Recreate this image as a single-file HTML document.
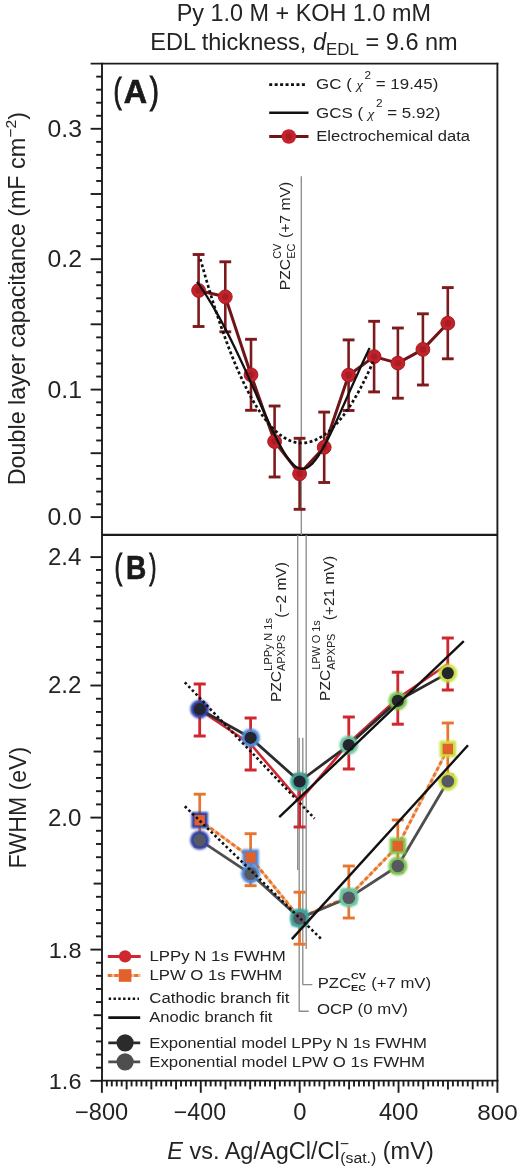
<!DOCTYPE html>
<html><head><meta charset="utf-8"><style>
html,body{margin:0;padding:0;background:#fff;}
svg{display:block;font-family:'Liberation Sans', Arial, Helvetica, sans-serif;}
</style></head><body>
<svg width="520" height="1169" viewBox="0 0 520 1169">
<rect width="520" height="1169" fill="#fff"/>
<line x1="90.60" y1="517.10" x2="102.00" y2="517.10" stroke="#1c1c1c" stroke-width="1.9" />
<line x1="96.20" y1="504.32" x2="102.00" y2="504.32" stroke="#1c1c1c" stroke-width="1.9" />
<line x1="96.20" y1="491.54" x2="102.00" y2="491.54" stroke="#1c1c1c" stroke-width="1.9" />
<line x1="96.20" y1="478.76" x2="102.00" y2="478.76" stroke="#1c1c1c" stroke-width="1.9" />
<line x1="96.20" y1="465.98" x2="102.00" y2="465.98" stroke="#1c1c1c" stroke-width="1.9" />
<line x1="90.60" y1="453.20" x2="102.00" y2="453.20" stroke="#1c1c1c" stroke-width="1.9" />
<line x1="96.20" y1="440.48" x2="102.00" y2="440.48" stroke="#1c1c1c" stroke-width="1.9" />
<line x1="96.20" y1="427.76" x2="102.00" y2="427.76" stroke="#1c1c1c" stroke-width="1.9" />
<line x1="96.20" y1="415.04" x2="102.00" y2="415.04" stroke="#1c1c1c" stroke-width="1.9" />
<line x1="96.20" y1="402.32" x2="102.00" y2="402.32" stroke="#1c1c1c" stroke-width="1.9" />
<line x1="90.60" y1="389.60" x2="102.00" y2="389.60" stroke="#1c1c1c" stroke-width="1.9" />
<line x1="96.20" y1="376.54" x2="102.00" y2="376.54" stroke="#1c1c1c" stroke-width="1.9" />
<line x1="96.20" y1="363.48" x2="102.00" y2="363.48" stroke="#1c1c1c" stroke-width="1.9" />
<line x1="96.20" y1="350.42" x2="102.00" y2="350.42" stroke="#1c1c1c" stroke-width="1.9" />
<line x1="96.20" y1="337.36" x2="102.00" y2="337.36" stroke="#1c1c1c" stroke-width="1.9" />
<line x1="90.60" y1="324.30" x2="102.00" y2="324.30" stroke="#1c1c1c" stroke-width="1.9" />
<line x1="96.20" y1="311.28" x2="102.00" y2="311.28" stroke="#1c1c1c" stroke-width="1.9" />
<line x1="96.20" y1="298.26" x2="102.00" y2="298.26" stroke="#1c1c1c" stroke-width="1.9" />
<line x1="96.20" y1="285.24" x2="102.00" y2="285.24" stroke="#1c1c1c" stroke-width="1.9" />
<line x1="96.20" y1="272.22" x2="102.00" y2="272.22" stroke="#1c1c1c" stroke-width="1.9" />
<line x1="90.60" y1="259.20" x2="102.00" y2="259.20" stroke="#1c1c1c" stroke-width="1.9" />
<line x1="96.20" y1="246.16" x2="102.00" y2="246.16" stroke="#1c1c1c" stroke-width="1.9" />
<line x1="96.20" y1="233.12" x2="102.00" y2="233.12" stroke="#1c1c1c" stroke-width="1.9" />
<line x1="96.20" y1="220.08" x2="102.00" y2="220.08" stroke="#1c1c1c" stroke-width="1.9" />
<line x1="96.20" y1="207.04" x2="102.00" y2="207.04" stroke="#1c1c1c" stroke-width="1.9" />
<line x1="90.60" y1="194.00" x2="102.00" y2="194.00" stroke="#1c1c1c" stroke-width="1.9" />
<line x1="96.20" y1="180.96" x2="102.00" y2="180.96" stroke="#1c1c1c" stroke-width="1.9" />
<line x1="96.20" y1="167.92" x2="102.00" y2="167.92" stroke="#1c1c1c" stroke-width="1.9" />
<line x1="96.20" y1="154.88" x2="102.00" y2="154.88" stroke="#1c1c1c" stroke-width="1.9" />
<line x1="96.20" y1="141.84" x2="102.00" y2="141.84" stroke="#1c1c1c" stroke-width="1.9" />
<line x1="90.60" y1="128.80" x2="102.00" y2="128.80" stroke="#1c1c1c" stroke-width="1.9" />
<line x1="96.20" y1="115.76" x2="102.00" y2="115.76" stroke="#1c1c1c" stroke-width="1.9" />
<line x1="96.20" y1="102.72" x2="102.00" y2="102.72" stroke="#1c1c1c" stroke-width="1.9" />
<line x1="96.20" y1="89.68" x2="102.00" y2="89.68" stroke="#1c1c1c" stroke-width="1.9" />
<line x1="96.20" y1="76.64" x2="102.00" y2="76.64" stroke="#1c1c1c" stroke-width="1.9" />
<line x1="90.40" y1="1080.80" x2="102.00" y2="1080.80" stroke="#1c1c1c" stroke-width="1.9" />
<line x1="96.00" y1="1067.68" x2="102.00" y2="1067.68" stroke="#1c1c1c" stroke-width="1.9" />
<line x1="96.00" y1="1054.56" x2="102.00" y2="1054.56" stroke="#1c1c1c" stroke-width="1.9" />
<line x1="96.00" y1="1041.44" x2="102.00" y2="1041.44" stroke="#1c1c1c" stroke-width="1.9" />
<line x1="96.00" y1="1028.32" x2="102.00" y2="1028.32" stroke="#1c1c1c" stroke-width="1.9" />
<line x1="93.60" y1="1015.20" x2="102.00" y2="1015.20" stroke="#1c1c1c" stroke-width="1.9" />
<line x1="96.00" y1="1002.08" x2="102.00" y2="1002.08" stroke="#1c1c1c" stroke-width="1.9" />
<line x1="96.00" y1="988.96" x2="102.00" y2="988.96" stroke="#1c1c1c" stroke-width="1.9" />
<line x1="96.00" y1="975.84" x2="102.00" y2="975.84" stroke="#1c1c1c" stroke-width="1.9" />
<line x1="96.00" y1="962.72" x2="102.00" y2="962.72" stroke="#1c1c1c" stroke-width="1.9" />
<line x1="90.40" y1="949.60" x2="102.00" y2="949.60" stroke="#1c1c1c" stroke-width="1.9" />
<line x1="96.00" y1="936.40" x2="102.00" y2="936.40" stroke="#1c1c1c" stroke-width="1.9" />
<line x1="96.00" y1="923.20" x2="102.00" y2="923.20" stroke="#1c1c1c" stroke-width="1.9" />
<line x1="96.00" y1="910.00" x2="102.00" y2="910.00" stroke="#1c1c1c" stroke-width="1.9" />
<line x1="96.00" y1="896.80" x2="102.00" y2="896.80" stroke="#1c1c1c" stroke-width="1.9" />
<line x1="93.60" y1="883.60" x2="102.00" y2="883.60" stroke="#1c1c1c" stroke-width="1.9" />
<line x1="96.00" y1="870.40" x2="102.00" y2="870.40" stroke="#1c1c1c" stroke-width="1.9" />
<line x1="96.00" y1="857.20" x2="102.00" y2="857.20" stroke="#1c1c1c" stroke-width="1.9" />
<line x1="96.00" y1="844.00" x2="102.00" y2="844.00" stroke="#1c1c1c" stroke-width="1.9" />
<line x1="96.00" y1="830.80" x2="102.00" y2="830.80" stroke="#1c1c1c" stroke-width="1.9" />
<line x1="90.40" y1="817.60" x2="102.00" y2="817.60" stroke="#1c1c1c" stroke-width="1.9" />
<line x1="96.00" y1="804.39" x2="102.00" y2="804.39" stroke="#1c1c1c" stroke-width="1.9" />
<line x1="96.00" y1="791.18" x2="102.00" y2="791.18" stroke="#1c1c1c" stroke-width="1.9" />
<line x1="96.00" y1="777.97" x2="102.00" y2="777.97" stroke="#1c1c1c" stroke-width="1.9" />
<line x1="96.00" y1="764.76" x2="102.00" y2="764.76" stroke="#1c1c1c" stroke-width="1.9" />
<line x1="93.60" y1="751.55" x2="102.00" y2="751.55" stroke="#1c1c1c" stroke-width="1.9" />
<line x1="96.00" y1="738.34" x2="102.00" y2="738.34" stroke="#1c1c1c" stroke-width="1.9" />
<line x1="96.00" y1="725.13" x2="102.00" y2="725.13" stroke="#1c1c1c" stroke-width="1.9" />
<line x1="96.00" y1="711.92" x2="102.00" y2="711.92" stroke="#1c1c1c" stroke-width="1.9" />
<line x1="96.00" y1="698.71" x2="102.00" y2="698.71" stroke="#1c1c1c" stroke-width="1.9" />
<line x1="90.40" y1="685.50" x2="102.00" y2="685.50" stroke="#1c1c1c" stroke-width="1.9" />
<line x1="96.00" y1="672.66" x2="102.00" y2="672.66" stroke="#1c1c1c" stroke-width="1.9" />
<line x1="96.00" y1="659.82" x2="102.00" y2="659.82" stroke="#1c1c1c" stroke-width="1.9" />
<line x1="96.00" y1="646.98" x2="102.00" y2="646.98" stroke="#1c1c1c" stroke-width="1.9" />
<line x1="96.00" y1="634.14" x2="102.00" y2="634.14" stroke="#1c1c1c" stroke-width="1.9" />
<line x1="93.60" y1="621.30" x2="102.00" y2="621.30" stroke="#1c1c1c" stroke-width="1.9" />
<line x1="96.00" y1="608.46" x2="102.00" y2="608.46" stroke="#1c1c1c" stroke-width="1.9" />
<line x1="96.00" y1="595.62" x2="102.00" y2="595.62" stroke="#1c1c1c" stroke-width="1.9" />
<line x1="96.00" y1="582.78" x2="102.00" y2="582.78" stroke="#1c1c1c" stroke-width="1.9" />
<line x1="96.00" y1="569.94" x2="102.00" y2="569.94" stroke="#1c1c1c" stroke-width="1.9" />
<line x1="90.40" y1="557.10" x2="102.00" y2="557.10" stroke="#1c1c1c" stroke-width="1.9" />
<line x1="101.90" y1="1080.60" x2="101.90" y2="1092.80" stroke="#1c1c1c" stroke-width="1.9" />
<line x1="106.84" y1="1080.60" x2="106.84" y2="1086.40" stroke="#1c1c1c" stroke-width="1.9" />
<line x1="111.79" y1="1080.60" x2="111.79" y2="1086.40" stroke="#1c1c1c" stroke-width="1.9" />
<line x1="116.73" y1="1080.60" x2="116.73" y2="1086.40" stroke="#1c1c1c" stroke-width="1.9" />
<line x1="121.68" y1="1080.60" x2="121.68" y2="1086.40" stroke="#1c1c1c" stroke-width="1.9" />
<line x1="126.62" y1="1080.60" x2="126.62" y2="1089.40" stroke="#1c1c1c" stroke-width="1.9" />
<line x1="131.56" y1="1080.60" x2="131.56" y2="1086.40" stroke="#1c1c1c" stroke-width="1.9" />
<line x1="136.51" y1="1080.60" x2="136.51" y2="1086.40" stroke="#1c1c1c" stroke-width="1.9" />
<line x1="141.45" y1="1080.60" x2="141.45" y2="1086.40" stroke="#1c1c1c" stroke-width="1.9" />
<line x1="146.39" y1="1080.60" x2="146.39" y2="1086.40" stroke="#1c1c1c" stroke-width="1.9" />
<line x1="151.34" y1="1080.60" x2="151.34" y2="1089.40" stroke="#1c1c1c" stroke-width="1.9" />
<line x1="156.28" y1="1080.60" x2="156.28" y2="1086.40" stroke="#1c1c1c" stroke-width="1.9" />
<line x1="161.23" y1="1080.60" x2="161.23" y2="1086.40" stroke="#1c1c1c" stroke-width="1.9" />
<line x1="166.17" y1="1080.60" x2="166.17" y2="1086.40" stroke="#1c1c1c" stroke-width="1.9" />
<line x1="171.11" y1="1080.60" x2="171.11" y2="1086.40" stroke="#1c1c1c" stroke-width="1.9" />
<line x1="176.06" y1="1080.60" x2="176.06" y2="1089.40" stroke="#1c1c1c" stroke-width="1.9" />
<line x1="181.00" y1="1080.60" x2="181.00" y2="1086.40" stroke="#1c1c1c" stroke-width="1.9" />
<line x1="185.94" y1="1080.60" x2="185.94" y2="1086.40" stroke="#1c1c1c" stroke-width="1.9" />
<line x1="190.89" y1="1080.60" x2="190.89" y2="1086.40" stroke="#1c1c1c" stroke-width="1.9" />
<line x1="195.83" y1="1080.60" x2="195.83" y2="1086.40" stroke="#1c1c1c" stroke-width="1.9" />
<line x1="200.78" y1="1080.60" x2="200.78" y2="1092.80" stroke="#1c1c1c" stroke-width="1.9" />
<line x1="205.72" y1="1080.60" x2="205.72" y2="1086.40" stroke="#1c1c1c" stroke-width="1.9" />
<line x1="210.66" y1="1080.60" x2="210.66" y2="1086.40" stroke="#1c1c1c" stroke-width="1.9" />
<line x1="215.61" y1="1080.60" x2="215.61" y2="1086.40" stroke="#1c1c1c" stroke-width="1.9" />
<line x1="220.55" y1="1080.60" x2="220.55" y2="1086.40" stroke="#1c1c1c" stroke-width="1.9" />
<line x1="225.49" y1="1080.60" x2="225.49" y2="1089.40" stroke="#1c1c1c" stroke-width="1.9" />
<line x1="230.44" y1="1080.60" x2="230.44" y2="1086.40" stroke="#1c1c1c" stroke-width="1.9" />
<line x1="235.38" y1="1080.60" x2="235.38" y2="1086.40" stroke="#1c1c1c" stroke-width="1.9" />
<line x1="240.33" y1="1080.60" x2="240.33" y2="1086.40" stroke="#1c1c1c" stroke-width="1.9" />
<line x1="245.27" y1="1080.60" x2="245.27" y2="1086.40" stroke="#1c1c1c" stroke-width="1.9" />
<line x1="250.21" y1="1080.60" x2="250.21" y2="1089.40" stroke="#1c1c1c" stroke-width="1.9" />
<line x1="255.16" y1="1080.60" x2="255.16" y2="1086.40" stroke="#1c1c1c" stroke-width="1.9" />
<line x1="260.10" y1="1080.60" x2="260.10" y2="1086.40" stroke="#1c1c1c" stroke-width="1.9" />
<line x1="265.04" y1="1080.60" x2="265.04" y2="1086.40" stroke="#1c1c1c" stroke-width="1.9" />
<line x1="269.99" y1="1080.60" x2="269.99" y2="1086.40" stroke="#1c1c1c" stroke-width="1.9" />
<line x1="274.93" y1="1080.60" x2="274.93" y2="1089.40" stroke="#1c1c1c" stroke-width="1.9" />
<line x1="279.88" y1="1080.60" x2="279.88" y2="1086.40" stroke="#1c1c1c" stroke-width="1.9" />
<line x1="284.82" y1="1080.60" x2="284.82" y2="1086.40" stroke="#1c1c1c" stroke-width="1.9" />
<line x1="289.76" y1="1080.60" x2="289.76" y2="1086.40" stroke="#1c1c1c" stroke-width="1.9" />
<line x1="294.71" y1="1080.60" x2="294.71" y2="1086.40" stroke="#1c1c1c" stroke-width="1.9" />
<line x1="299.65" y1="1080.60" x2="299.65" y2="1092.80" stroke="#1c1c1c" stroke-width="1.9" />
<line x1="304.59" y1="1080.60" x2="304.59" y2="1086.40" stroke="#1c1c1c" stroke-width="1.9" />
<line x1="309.54" y1="1080.60" x2="309.54" y2="1086.40" stroke="#1c1c1c" stroke-width="1.9" />
<line x1="314.48" y1="1080.60" x2="314.48" y2="1086.40" stroke="#1c1c1c" stroke-width="1.9" />
<line x1="319.43" y1="1080.60" x2="319.43" y2="1086.40" stroke="#1c1c1c" stroke-width="1.9" />
<line x1="324.37" y1="1080.60" x2="324.37" y2="1089.40" stroke="#1c1c1c" stroke-width="1.9" />
<line x1="329.31" y1="1080.60" x2="329.31" y2="1086.40" stroke="#1c1c1c" stroke-width="1.9" />
<line x1="334.26" y1="1080.60" x2="334.26" y2="1086.40" stroke="#1c1c1c" stroke-width="1.9" />
<line x1="339.20" y1="1080.60" x2="339.20" y2="1086.40" stroke="#1c1c1c" stroke-width="1.9" />
<line x1="344.14" y1="1080.60" x2="344.14" y2="1086.40" stroke="#1c1c1c" stroke-width="1.9" />
<line x1="349.09" y1="1080.60" x2="349.09" y2="1089.40" stroke="#1c1c1c" stroke-width="1.9" />
<line x1="354.03" y1="1080.60" x2="354.03" y2="1086.40" stroke="#1c1c1c" stroke-width="1.9" />
<line x1="358.98" y1="1080.60" x2="358.98" y2="1086.40" stroke="#1c1c1c" stroke-width="1.9" />
<line x1="363.92" y1="1080.60" x2="363.92" y2="1086.40" stroke="#1c1c1c" stroke-width="1.9" />
<line x1="368.86" y1="1080.60" x2="368.86" y2="1086.40" stroke="#1c1c1c" stroke-width="1.9" />
<line x1="373.81" y1="1080.60" x2="373.81" y2="1089.40" stroke="#1c1c1c" stroke-width="1.9" />
<line x1="378.75" y1="1080.60" x2="378.75" y2="1086.40" stroke="#1c1c1c" stroke-width="1.9" />
<line x1="383.69" y1="1080.60" x2="383.69" y2="1086.40" stroke="#1c1c1c" stroke-width="1.9" />
<line x1="388.64" y1="1080.60" x2="388.64" y2="1086.40" stroke="#1c1c1c" stroke-width="1.9" />
<line x1="393.58" y1="1080.60" x2="393.58" y2="1086.40" stroke="#1c1c1c" stroke-width="1.9" />
<line x1="398.52" y1="1080.60" x2="398.52" y2="1092.80" stroke="#1c1c1c" stroke-width="1.9" />
<line x1="403.47" y1="1080.60" x2="403.47" y2="1086.40" stroke="#1c1c1c" stroke-width="1.9" />
<line x1="408.41" y1="1080.60" x2="408.41" y2="1086.40" stroke="#1c1c1c" stroke-width="1.9" />
<line x1="413.36" y1="1080.60" x2="413.36" y2="1086.40" stroke="#1c1c1c" stroke-width="1.9" />
<line x1="418.30" y1="1080.60" x2="418.30" y2="1086.40" stroke="#1c1c1c" stroke-width="1.9" />
<line x1="423.24" y1="1080.60" x2="423.24" y2="1089.40" stroke="#1c1c1c" stroke-width="1.9" />
<line x1="428.19" y1="1080.60" x2="428.19" y2="1086.40" stroke="#1c1c1c" stroke-width="1.9" />
<line x1="433.13" y1="1080.60" x2="433.13" y2="1086.40" stroke="#1c1c1c" stroke-width="1.9" />
<line x1="438.08" y1="1080.60" x2="438.08" y2="1086.40" stroke="#1c1c1c" stroke-width="1.9" />
<line x1="443.02" y1="1080.60" x2="443.02" y2="1086.40" stroke="#1c1c1c" stroke-width="1.9" />
<line x1="447.96" y1="1080.60" x2="447.96" y2="1089.40" stroke="#1c1c1c" stroke-width="1.9" />
<line x1="452.91" y1="1080.60" x2="452.91" y2="1086.40" stroke="#1c1c1c" stroke-width="1.9" />
<line x1="457.85" y1="1080.60" x2="457.85" y2="1086.40" stroke="#1c1c1c" stroke-width="1.9" />
<line x1="462.79" y1="1080.60" x2="462.79" y2="1086.40" stroke="#1c1c1c" stroke-width="1.9" />
<line x1="467.74" y1="1080.60" x2="467.74" y2="1086.40" stroke="#1c1c1c" stroke-width="1.9" />
<line x1="472.68" y1="1080.60" x2="472.68" y2="1089.40" stroke="#1c1c1c" stroke-width="1.9" />
<line x1="477.62" y1="1080.60" x2="477.62" y2="1086.40" stroke="#1c1c1c" stroke-width="1.9" />
<line x1="482.57" y1="1080.60" x2="482.57" y2="1086.40" stroke="#1c1c1c" stroke-width="1.9" />
<line x1="487.51" y1="1080.60" x2="487.51" y2="1086.40" stroke="#1c1c1c" stroke-width="1.9" />
<line x1="492.46" y1="1080.60" x2="492.46" y2="1086.40" stroke="#1c1c1c" stroke-width="1.9" />
<line x1="497.40" y1="1080.60" x2="497.40" y2="1092.80" stroke="#1c1c1c" stroke-width="1.9" />
<line x1="90.60" y1="63.60" x2="498.30" y2="63.60" stroke="#1c1c1c" stroke-width="1.9" />
<line x1="497.40" y1="62.70" x2="497.40" y2="1081.50" stroke="#1c1c1c" stroke-width="1.9" />
<line x1="102.00" y1="62.70" x2="102.00" y2="1080.60" stroke="#1c1c1c" stroke-width="1.9" />
<line x1="102.00" y1="534.90" x2="497.40" y2="534.90" stroke="#1c1c1c" stroke-width="2.1" />
<line x1="101.10" y1="1080.60" x2="498.30" y2="1080.60" stroke="#1c1c1c" stroke-width="1.9" />
<line x1="301.30" y1="176.20" x2="301.30" y2="534.90" stroke="#8d8d8d" stroke-width="1.35" />
<line x1="297.70" y1="534.90" x2="297.70" y2="870.00" stroke="#8d8d8d" stroke-width="1.35" />
<line x1="306.20" y1="534.90" x2="306.20" y2="949.00" stroke="#8d8d8d" stroke-width="1.35" />
<polyline points="299.20,737.70 299.20,1011.20 308.70,1011.20" fill="none" stroke="#8d8d8d" stroke-width="1.35" stroke-linejoin="round" />
<polyline points="302.80,737.70 302.80,984.60 312.40,984.60" fill="none" stroke="#8d8d8d" stroke-width="1.35" stroke-linejoin="round" />
<line x1="198.60" y1="254.50" x2="198.60" y2="326.50" stroke="#7d1a1e" stroke-width="2.6" />
<line x1="192.70" y1="254.50" x2="204.50" y2="254.50" stroke="#7d1a1e" stroke-width="2.9" />
<line x1="192.70" y1="326.50" x2="204.50" y2="326.50" stroke="#7d1a1e" stroke-width="2.9" />
<line x1="225.30" y1="261.80" x2="225.30" y2="331.80" stroke="#7d1a1e" stroke-width="2.6" />
<line x1="219.40" y1="261.80" x2="231.20" y2="261.80" stroke="#7d1a1e" stroke-width="2.9" />
<line x1="219.40" y1="331.80" x2="231.20" y2="331.80" stroke="#7d1a1e" stroke-width="2.9" />
<line x1="251.00" y1="339.30" x2="251.00" y2="410.30" stroke="#7d1a1e" stroke-width="2.6" />
<line x1="245.10" y1="339.30" x2="256.90" y2="339.30" stroke="#7d1a1e" stroke-width="2.9" />
<line x1="245.10" y1="410.30" x2="256.90" y2="410.30" stroke="#7d1a1e" stroke-width="2.9" />
<line x1="274.60" y1="406.00" x2="274.60" y2="477.00" stroke="#7d1a1e" stroke-width="2.6" />
<line x1="268.70" y1="406.00" x2="280.50" y2="406.00" stroke="#7d1a1e" stroke-width="2.9" />
<line x1="268.70" y1="477.00" x2="280.50" y2="477.00" stroke="#7d1a1e" stroke-width="2.9" />
<line x1="299.60" y1="438.30" x2="299.60" y2="509.30" stroke="#7d1a1e" stroke-width="2.6" />
<line x1="293.70" y1="438.30" x2="305.50" y2="438.30" stroke="#7d1a1e" stroke-width="2.9" />
<line x1="293.70" y1="509.30" x2="305.50" y2="509.30" stroke="#7d1a1e" stroke-width="2.9" />
<line x1="324.20" y1="412.10" x2="324.20" y2="482.50" stroke="#7d1a1e" stroke-width="2.6" />
<line x1="318.30" y1="412.10" x2="330.10" y2="412.10" stroke="#7d1a1e" stroke-width="2.9" />
<line x1="318.30" y1="482.50" x2="330.10" y2="482.50" stroke="#7d1a1e" stroke-width="2.9" />
<line x1="348.60" y1="339.90" x2="348.60" y2="410.50" stroke="#7d1a1e" stroke-width="2.6" />
<line x1="342.70" y1="339.90" x2="354.50" y2="339.90" stroke="#7d1a1e" stroke-width="2.9" />
<line x1="342.70" y1="410.50" x2="354.50" y2="410.50" stroke="#7d1a1e" stroke-width="2.9" />
<line x1="374.10" y1="321.30" x2="374.10" y2="391.90" stroke="#7d1a1e" stroke-width="2.6" />
<line x1="368.20" y1="321.30" x2="380.00" y2="321.30" stroke="#7d1a1e" stroke-width="2.9" />
<line x1="368.20" y1="391.90" x2="380.00" y2="391.90" stroke="#7d1a1e" stroke-width="2.9" />
<line x1="397.90" y1="328.00" x2="397.90" y2="398.20" stroke="#7d1a1e" stroke-width="2.6" />
<line x1="392.00" y1="328.00" x2="403.80" y2="328.00" stroke="#7d1a1e" stroke-width="2.9" />
<line x1="392.00" y1="398.20" x2="403.80" y2="398.20" stroke="#7d1a1e" stroke-width="2.9" />
<line x1="422.90" y1="313.80" x2="422.90" y2="385.00" stroke="#7d1a1e" stroke-width="2.6" />
<line x1="417.00" y1="313.80" x2="428.80" y2="313.80" stroke="#7d1a1e" stroke-width="2.9" />
<line x1="417.00" y1="385.00" x2="428.80" y2="385.00" stroke="#7d1a1e" stroke-width="2.9" />
<line x1="447.80" y1="287.60" x2="447.80" y2="358.80" stroke="#7d1a1e" stroke-width="2.6" />
<line x1="441.90" y1="287.60" x2="453.70" y2="287.60" stroke="#7d1a1e" stroke-width="2.9" />
<line x1="441.90" y1="358.80" x2="453.70" y2="358.80" stroke="#7d1a1e" stroke-width="2.9" />
<polyline points="198.60,290.50 225.30,296.80 251.00,374.80 274.60,441.50 299.60,473.80 324.20,447.30 348.60,375.20 374.10,356.60 397.90,363.10 422.90,349.40 447.80,323.20" fill="none" stroke="#6f1518" stroke-width="3.0" stroke-linejoin="round" />
<circle cx="198.60" cy="290.50" r="6.9" fill="#c5212b" stroke="#a11d25" stroke-width="1"/>
<circle cx="198.60" cy="290.50" r="3.2" fill="#9a1c22" opacity="0.7"/>
<circle cx="225.30" cy="296.80" r="6.9" fill="#c5212b" stroke="#a11d25" stroke-width="1"/>
<circle cx="225.30" cy="296.80" r="3.2" fill="#9a1c22" opacity="0.7"/>
<circle cx="251.00" cy="374.80" r="6.9" fill="#c5212b" stroke="#a11d25" stroke-width="1"/>
<circle cx="251.00" cy="374.80" r="3.2" fill="#9a1c22" opacity="0.7"/>
<circle cx="274.60" cy="441.50" r="6.9" fill="#c5212b" stroke="#a11d25" stroke-width="1"/>
<circle cx="274.60" cy="441.50" r="3.2" fill="#9a1c22" opacity="0.7"/>
<circle cx="299.60" cy="473.80" r="6.9" fill="#c5212b" stroke="#a11d25" stroke-width="1"/>
<circle cx="299.60" cy="473.80" r="3.2" fill="#9a1c22" opacity="0.7"/>
<circle cx="324.20" cy="447.30" r="6.9" fill="#c5212b" stroke="#a11d25" stroke-width="1"/>
<circle cx="324.20" cy="447.30" r="3.2" fill="#9a1c22" opacity="0.7"/>
<circle cx="348.60" cy="375.20" r="6.9" fill="#c5212b" stroke="#a11d25" stroke-width="1"/>
<circle cx="348.60" cy="375.20" r="3.2" fill="#9a1c22" opacity="0.7"/>
<circle cx="374.10" cy="356.60" r="6.9" fill="#c5212b" stroke="#a11d25" stroke-width="1"/>
<circle cx="374.10" cy="356.60" r="3.2" fill="#9a1c22" opacity="0.7"/>
<circle cx="397.90" cy="363.10" r="6.9" fill="#c5212b" stroke="#a11d25" stroke-width="1"/>
<circle cx="397.90" cy="363.10" r="3.2" fill="#9a1c22" opacity="0.7"/>
<circle cx="422.90" cy="349.40" r="6.9" fill="#c5212b" stroke="#a11d25" stroke-width="1"/>
<circle cx="422.90" cy="349.40" r="3.2" fill="#9a1c22" opacity="0.7"/>
<circle cx="447.80" cy="323.20" r="6.9" fill="#c5212b" stroke="#a11d25" stroke-width="1"/>
<circle cx="447.80" cy="323.20" r="3.2" fill="#9a1c22" opacity="0.7"/>
<path d="M200.40,259.02 C200.73,260.22 201.73,263.85 202.40,266.22 C203.07,268.60 203.73,270.96 204.40,273.29 C205.07,275.62 205.73,277.92 206.40,280.21 C207.07,282.49 207.73,284.75 208.40,286.98 C209.07,289.22 209.73,291.43 210.40,293.61 C211.07,295.80 211.73,297.96 212.40,300.10 C213.07,302.24 213.73,304.35 214.40,306.44 C215.07,308.53 215.73,310.60 216.40,312.64 C217.07,314.69 217.73,316.70 218.40,318.70 C219.07,320.69 219.73,322.66 220.40,324.61 C221.07,326.56 221.73,328.48 222.40,330.38 C223.07,332.28 223.73,334.15 224.40,336.00 C225.07,337.85 225.73,339.68 226.40,341.48 C227.07,343.28 227.73,345.06 228.40,346.81 C229.07,348.57 229.73,350.30 230.40,352.01 C231.07,353.71 231.73,355.39 232.40,357.05 C233.07,358.71 233.73,360.35 234.40,361.96 C235.07,363.57 235.73,365.15 236.40,366.72 C237.07,368.28 237.73,369.82 238.40,371.33 C239.07,372.85 239.73,374.34 240.40,375.80 C241.07,377.27 241.73,378.71 242.40,380.13 C243.07,381.55 243.73,382.94 244.40,384.31 C245.07,385.68 245.73,387.03 246.40,388.35 C247.07,389.67 247.73,390.97 248.40,392.25 C249.07,393.52 249.73,394.77 250.40,396.00 C251.07,397.22 251.73,398.43 252.40,399.61 C253.07,400.78 253.73,401.94 254.40,403.07 C255.07,404.20 255.73,405.31 256.40,406.39 C257.07,407.47 257.73,408.53 258.40,409.56 C259.07,410.60 259.73,411.61 260.40,412.59 C261.07,413.58 261.73,414.54 262.40,415.48 C263.07,416.42 263.73,417.33 264.40,418.22 C265.07,419.11 265.73,419.98 266.40,420.82 C267.07,421.67 267.73,422.48 268.40,423.28 C269.07,424.07 269.73,424.84 270.40,425.59 C271.07,426.34 271.73,427.06 272.40,427.76 C273.07,428.46 273.73,429.13 274.40,429.78 C275.07,430.43 275.73,431.06 276.40,431.66 C277.07,432.26 277.73,432.84 278.40,433.39 C279.07,433.95 279.73,434.48 280.40,434.99 C281.07,435.49 281.73,435.97 282.40,436.43 C283.07,436.89 283.73,437.33 284.40,437.74 C285.07,438.15 285.73,438.53 286.40,438.90 C287.07,439.26 287.73,439.60 288.40,439.91 C289.07,440.23 289.73,440.52 290.40,440.78 C291.07,441.05 291.73,441.29 292.40,441.51 C293.07,441.73 293.73,441.92 294.40,442.09 C295.07,442.26 295.73,442.41 296.40,442.53 C297.07,442.65 297.73,442.75 298.40,442.83 C299.07,442.90 299.73,442.95 300.40,442.98 C301.07,443.00 301.73,443.01 302.40,442.99 C303.07,442.97 303.73,442.93 304.40,442.87 C305.07,442.81 305.73,442.73 306.40,442.62 C307.07,442.52 307.73,442.40 308.40,442.26 C309.07,442.11 309.73,441.95 310.40,441.76 C311.07,441.58 311.73,441.37 312.40,441.14 C313.07,440.92 313.73,440.67 314.40,440.40 C315.07,440.13 315.73,439.84 316.40,439.53 C317.07,439.22 317.73,438.89 318.40,438.54 C319.07,438.18 319.73,437.81 320.40,437.41 C321.07,437.02 321.73,436.61 322.40,436.17 C323.07,435.73 323.73,435.28 324.40,434.80 C325.07,434.32 325.73,433.82 326.40,433.30 C327.07,432.78 327.73,432.24 328.40,431.67 C329.07,431.11 329.73,430.53 330.40,429.92 C331.07,429.32 331.73,428.69 332.40,428.05 C333.07,427.40 333.73,426.73 334.40,426.04 C335.07,425.35 335.73,424.64 336.40,423.91 C337.07,423.18 337.73,422.42 338.40,421.65 C339.07,420.88 339.73,420.08 340.40,419.26 C341.07,418.45 341.73,417.61 342.40,416.75 C343.07,415.89 343.73,415.01 344.40,414.10 C345.07,413.20 345.73,412.28 346.40,411.33 C347.07,410.39 347.73,409.42 348.40,408.43 C349.07,407.44 349.73,406.43 350.40,405.40 C351.07,404.37 351.73,403.31 352.40,402.24 C353.07,401.16 353.73,400.06 354.40,398.94 C355.07,397.83 355.73,396.68 356.40,395.52 C357.07,394.36 357.73,393.17 358.40,391.97 C359.07,390.76 359.73,389.53 360.40,388.28 C361.07,387.03 361.73,385.76 362.40,384.46 C363.07,383.17 363.73,381.85 364.40,380.51 C365.07,379.17 365.73,377.81 366.40,376.43 C367.07,375.04 367.73,373.64 368.40,372.21 C369.07,370.78 369.73,369.33 370.40,367.85 C371.07,366.38 371.92,364.46 372.40,363.36 C372.88,362.27 373.15,361.64 373.30,361.30" fill="none" stroke="#111" stroke-width="2.7" stroke-dasharray="2.9,2.5"/>
<path d="M197.10,281.89 C197.43,282.36 198.43,283.75 199.10,284.71 C199.77,285.66 200.43,286.62 201.10,287.60 C201.77,288.58 202.43,289.57 203.10,290.57 C203.77,291.58 204.43,292.60 205.10,293.63 C205.77,294.66 206.43,295.70 207.10,296.76 C207.77,297.82 208.43,298.89 209.10,299.97 C209.77,301.06 210.43,302.15 211.10,303.26 C211.77,304.37 212.43,305.49 213.10,306.62 C213.77,307.76 214.43,308.91 215.10,310.06 C215.77,311.22 216.43,312.39 217.10,313.58 C217.77,314.76 218.43,315.96 219.10,317.16 C219.77,318.37 220.43,319.59 221.10,320.82 C221.77,322.05 222.43,323.30 223.10,324.55 C223.77,325.80 224.43,327.07 225.10,328.35 C225.77,329.62 226.43,330.91 227.10,332.21 C227.77,333.51 228.43,334.82 229.10,336.14 C229.77,337.46 230.43,338.79 231.10,340.13 C231.77,341.47 232.43,342.82 233.10,344.18 C233.77,345.54 234.43,346.92 235.10,348.30 C235.77,349.68 236.43,351.06 237.10,352.46 C237.77,353.86 238.43,355.27 239.10,356.68 C239.77,358.10 240.43,359.52 241.10,360.95 C241.77,362.38 242.43,363.82 243.10,365.27 C243.77,366.72 244.43,368.17 245.10,369.63 C245.77,371.09 246.43,372.56 247.10,374.03 C247.77,375.50 248.43,376.98 249.10,378.46 C249.77,379.94 250.43,381.43 251.10,382.92 C251.77,384.41 252.43,385.90 253.10,387.40 C253.77,388.90 254.43,390.40 255.10,391.90 C255.77,393.40 256.43,394.91 257.10,396.41 C257.77,397.91 258.43,399.42 259.10,400.92 C259.77,402.42 260.43,403.93 261.10,405.42 C261.77,406.92 262.43,408.42 263.10,409.91 C263.77,411.40 264.43,412.89 265.10,414.37 C265.77,415.85 266.43,417.32 267.10,418.79 C267.77,420.25 268.43,421.71 269.10,423.16 C269.77,424.60 270.43,426.04 271.10,427.45 C271.77,428.87 272.43,430.28 273.10,431.67 C273.77,433.06 274.43,434.43 275.10,435.78 C275.77,437.13 276.43,438.46 277.10,439.77 C277.77,441.08 278.43,442.36 279.10,443.62 C279.77,444.87 280.43,446.10 281.10,447.29 C281.77,448.49 282.43,449.66 283.10,450.78 C283.77,451.91 284.43,453.00 285.10,454.05 C285.77,455.09 286.43,456.10 287.10,457.06 C287.77,458.02 288.43,458.94 289.10,459.80 C289.77,460.66 290.43,461.48 291.10,462.23 C291.77,462.99 292.43,463.69 293.10,464.33 C293.77,464.97 294.43,465.55 295.10,466.06 C295.77,466.57 296.43,467.02 297.10,467.40 C297.77,467.78 298.43,468.09 299.10,468.33 C299.77,468.56 300.43,468.73 301.10,468.82 C301.77,468.91 302.43,468.92 303.10,468.86 C303.77,468.80 304.43,468.67 305.10,468.46 C305.77,468.25 306.43,467.97 307.10,467.62 C307.77,467.27 308.43,466.85 309.10,466.36 C309.77,465.88 310.43,465.32 311.10,464.71 C311.77,464.09 312.43,463.41 313.10,462.68 C313.77,461.95 314.43,461.16 315.10,460.31 C315.77,459.47 316.43,458.57 317.10,457.63 C317.77,456.69 318.43,455.70 319.10,454.67 C319.77,453.64 320.43,452.56 321.10,451.45 C321.77,450.34 322.43,449.19 323.10,448.01 C323.77,446.83 324.43,445.61 325.10,444.37 C325.77,443.12 326.43,441.85 327.10,440.55 C327.77,439.26 328.43,437.93 329.10,436.59 C329.77,435.25 330.43,433.88 331.10,432.50 C331.77,431.12 332.43,429.72 333.10,428.30 C333.77,426.89 334.43,425.46 335.10,424.02 C335.77,422.58 336.43,421.13 337.10,419.67 C337.77,418.21 338.43,416.73 339.10,415.26 C339.77,413.78 340.43,412.29 341.10,410.81 C341.77,409.32 342.43,407.82 343.10,406.32 C343.77,404.83 344.43,403.32 345.10,401.82 C345.77,400.32 346.43,398.82 347.10,397.31 C347.77,395.81 348.43,394.30 349.10,392.80 C349.77,391.30 350.43,389.80 351.10,388.30 C351.77,386.80 352.43,385.31 353.10,383.81 C353.77,382.32 354.43,380.83 355.10,379.35 C355.77,377.86 356.43,376.38 357.10,374.91 C357.77,373.44 358.43,371.97 359.10,370.51 C359.77,369.04 360.43,367.59 361.10,366.14 C361.77,364.69 362.43,363.25 363.10,361.81 C363.77,360.38 364.43,358.95 365.10,357.53 C365.77,356.11 366.43,354.70 367.10,353.30 C367.77,351.90 368.68,349.99 369.10,349.12 C369.52,348.26 369.52,348.26 369.60,348.09" fill="none" stroke="#111" stroke-width="2.3"/>
<line x1="199.70" y1="684.00" x2="199.70" y2="736.00" stroke="#cf2630" stroke-width="2.8" />
<line x1="193.70" y1="684.00" x2="205.70" y2="684.00" stroke="#cf2630" stroke-width="3.0" />
<line x1="193.70" y1="736.00" x2="205.70" y2="736.00" stroke="#cf2630" stroke-width="3.0" />
<line x1="250.60" y1="718.00" x2="250.60" y2="770.00" stroke="#cf2630" stroke-width="2.8" />
<line x1="244.60" y1="718.00" x2="256.60" y2="718.00" stroke="#cf2630" stroke-width="3.0" />
<line x1="244.60" y1="770.00" x2="256.60" y2="770.00" stroke="#cf2630" stroke-width="3.0" />
<line x1="299.60" y1="775.00" x2="299.60" y2="827.00" stroke="#cf2630" stroke-width="2.8" />
<line x1="293.60" y1="775.00" x2="305.60" y2="775.00" stroke="#cf2630" stroke-width="3.0" />
<line x1="293.60" y1="827.00" x2="305.60" y2="827.00" stroke="#cf2630" stroke-width="3.0" />
<line x1="348.80" y1="717.00" x2="348.80" y2="769.00" stroke="#cf2630" stroke-width="2.8" />
<line x1="342.80" y1="717.00" x2="354.80" y2="717.00" stroke="#cf2630" stroke-width="3.0" />
<line x1="342.80" y1="769.00" x2="354.80" y2="769.00" stroke="#cf2630" stroke-width="3.0" />
<line x1="397.80" y1="672.20" x2="397.80" y2="724.20" stroke="#cf2630" stroke-width="2.8" />
<line x1="391.80" y1="672.20" x2="403.80" y2="672.20" stroke="#cf2630" stroke-width="3.0" />
<line x1="391.80" y1="724.20" x2="403.80" y2="724.20" stroke="#cf2630" stroke-width="3.0" />
<line x1="447.80" y1="638.00" x2="447.80" y2="690.00" stroke="#cf2630" stroke-width="2.8" />
<line x1="441.80" y1="638.00" x2="453.80" y2="638.00" stroke="#cf2630" stroke-width="3.0" />
<line x1="441.80" y1="690.00" x2="453.80" y2="690.00" stroke="#cf2630" stroke-width="3.0" />
<line x1="199.70" y1="794.20" x2="199.70" y2="846.20" stroke="#e7752d" stroke-width="2.7" />
<line x1="193.70" y1="794.20" x2="205.70" y2="794.20" stroke="#e7752d" stroke-width="2.9" />
<line x1="193.70" y1="846.20" x2="205.70" y2="846.20" stroke="#e7752d" stroke-width="2.9" />
<line x1="250.60" y1="833.70" x2="250.60" y2="885.70" stroke="#e7752d" stroke-width="2.7" />
<line x1="244.60" y1="833.70" x2="256.60" y2="833.70" stroke="#e7752d" stroke-width="2.9" />
<line x1="244.60" y1="885.70" x2="256.60" y2="885.70" stroke="#e7752d" stroke-width="2.9" />
<line x1="299.60" y1="892.20" x2="299.60" y2="944.20" stroke="#e7752d" stroke-width="2.7" />
<line x1="293.60" y1="892.20" x2="305.60" y2="892.20" stroke="#e7752d" stroke-width="2.9" />
<line x1="293.60" y1="944.20" x2="305.60" y2="944.20" stroke="#e7752d" stroke-width="2.9" />
<line x1="348.80" y1="866.00" x2="348.80" y2="918.00" stroke="#e7752d" stroke-width="2.7" />
<line x1="342.80" y1="866.00" x2="354.80" y2="866.00" stroke="#e7752d" stroke-width="2.9" />
<line x1="342.80" y1="918.00" x2="354.80" y2="918.00" stroke="#e7752d" stroke-width="2.9" />
<line x1="397.80" y1="820.00" x2="397.80" y2="872.00" stroke="#e7752d" stroke-width="2.7" />
<line x1="391.80" y1="820.00" x2="403.80" y2="820.00" stroke="#e7752d" stroke-width="2.9" />
<line x1="391.80" y1="872.00" x2="403.80" y2="872.00" stroke="#e7752d" stroke-width="2.9" />
<line x1="447.80" y1="723.00" x2="447.80" y2="775.00" stroke="#e7752d" stroke-width="2.7" />
<line x1="441.80" y1="723.00" x2="453.80" y2="723.00" stroke="#e7752d" stroke-width="2.9" />
<line x1="441.80" y1="775.00" x2="453.80" y2="775.00" stroke="#e7752d" stroke-width="2.9" />
<polyline points="199.70,710.00 250.60,744.00 299.60,801.00 348.80,743.00 397.80,698.20 447.80,664.00" fill="none" stroke="#cf2630" stroke-width="2.6" stroke-linejoin="round" />
<polyline points="199.70,820.20 250.60,857.50 299.60,918.00 348.80,896.50 397.80,846.00 447.80,749.00" fill="none" stroke="#f4c09c" stroke-width="2.8" stroke-linejoin="round" />
<polyline points="199.70,820.20 250.60,857.50 299.60,918.00 348.80,896.50 397.80,846.00 447.80,749.00" fill="none" stroke="#e7752d" stroke-width="2.9" stroke-linejoin="round" stroke-dasharray="4,2.6"/>
<polyline points="199.70,709.20 250.60,737.80 299.60,781.50 348.80,745.00 397.80,700.80 447.80,673.10" fill="none" stroke="#2b2b2b" stroke-width="2.8" stroke-linejoin="round" />
<polyline points="199.70,840.10 250.60,873.80 299.60,918.30 348.80,897.80 397.80,866.00 447.80,781.30" fill="none" stroke="#4e4e4e" stroke-width="2.8" stroke-linejoin="round" />
<defs><filter id="bl" x="-50%" y="-50%" width="200%" height="200%"><feGaussianBlur stdDeviation="0.9"/></filter></defs>
<rect x="191.50" y="812.00" width="16.4" height="16.4" fill="#2f3fa6" filter="url(#bl)"/>
<rect x="194.50" y="815.00" width="10.4" height="10.4" fill="#e2602a"/>
<rect x="242.40" y="849.30" width="16.4" height="16.4" fill="#4f86d2" filter="url(#bl)"/>
<rect x="245.40" y="852.30" width="10.4" height="10.4" fill="#e2602a"/>
<rect x="291.40" y="909.80" width="16.4" height="16.4" fill="#3aa597" filter="url(#bl)"/>
<rect x="294.40" y="912.80" width="10.4" height="10.4" fill="#e2602a"/>
<rect x="340.60" y="888.30" width="16.4" height="16.4" fill="#6cc59b" filter="url(#bl)"/>
<rect x="343.60" y="891.30" width="10.4" height="10.4" fill="#e2602a"/>
<rect x="389.60" y="837.80" width="16.4" height="16.4" fill="#79c548" filter="url(#bl)"/>
<rect x="392.60" y="840.80" width="10.4" height="10.4" fill="#e2602a"/>
<rect x="439.60" y="740.80" width="16.4" height="16.4" fill="#c9df3c" filter="url(#bl)"/>
<rect x="442.60" y="743.80" width="10.4" height="10.4" fill="#e2602a"/>
<circle cx="199.70" cy="709.20" r="9.4" fill="#2f3fa6" filter="url(#bl)"/>
<circle cx="199.70" cy="709.20" r="6.1" fill="#252530"/>
<circle cx="250.60" cy="737.80" r="9.4" fill="#4f86d2" filter="url(#bl)"/>
<circle cx="250.60" cy="737.80" r="6.1" fill="#252530"/>
<circle cx="299.60" cy="781.50" r="9.4" fill="#3aa597" filter="url(#bl)"/>
<circle cx="299.60" cy="781.50" r="6.1" fill="#252530"/>
<circle cx="348.80" cy="745.00" r="9.4" fill="#6cc59b" filter="url(#bl)"/>
<circle cx="348.80" cy="745.00" r="6.1" fill="#252530"/>
<circle cx="397.80" cy="700.80" r="9.4" fill="#79c548" filter="url(#bl)"/>
<circle cx="397.80" cy="700.80" r="6.1" fill="#252530"/>
<circle cx="447.80" cy="673.10" r="9.4" fill="#c9df3c" filter="url(#bl)"/>
<circle cx="447.80" cy="673.10" r="6.1" fill="#252530"/>
<circle cx="199.70" cy="840.10" r="9.6" fill="#2f3fa6" filter="url(#bl)"/>
<circle cx="199.70" cy="840.10" r="6.3" fill="#565864"/>
<circle cx="250.60" cy="873.80" r="9.6" fill="#4f86d2" filter="url(#bl)"/>
<circle cx="250.60" cy="873.80" r="6.3" fill="#565864"/>
<circle cx="299.60" cy="918.30" r="9.6" fill="#3aa597" filter="url(#bl)"/>
<circle cx="299.60" cy="918.30" r="6.3" fill="#565864"/>
<circle cx="348.80" cy="897.80" r="9.6" fill="#6cc59b" filter="url(#bl)"/>
<circle cx="348.80" cy="897.80" r="6.3" fill="#565864"/>
<circle cx="397.80" cy="866.00" r="9.6" fill="#79c548" filter="url(#bl)"/>
<circle cx="397.80" cy="866.00" r="6.3" fill="#565864"/>
<circle cx="447.80" cy="781.30" r="9.6" fill="#c9df3c" filter="url(#bl)"/>
<circle cx="447.80" cy="781.30" r="6.3" fill="#565864"/>
<line x1="184.80" y1="682.30" x2="314.60" y2="818.50" stroke="#111" stroke-width="2.6" stroke-dasharray="2.6,2.6"/>
<line x1="279.20" y1="817.20" x2="463.80" y2="641.20" stroke="#111" stroke-width="2.4" />
<line x1="184.80" y1="806.20" x2="322.30" y2="940.00" stroke="#111" stroke-width="2.6" stroke-dasharray="2.6,2.6"/>
<line x1="291.80" y1="939.10" x2="468.00" y2="745.30" stroke="#111" stroke-width="2.4" />
<line x1="269.20" y1="84.60" x2="307.30" y2="84.60" stroke="#111" stroke-width="2.7" stroke-dasharray="3,2.45"/>
<line x1="269.20" y1="112.80" x2="308.50" y2="112.80" stroke="#111" stroke-width="2.4" />
<line x1="269.20" y1="136.50" x2="308.50" y2="136.50" stroke="#6f1518" stroke-width="3.0" />
<circle cx="288.8" cy="136.5" r="7.3" fill="#c5212b"/>
<circle cx="288.8" cy="136.5" r="3.2" fill="#9a1c22" opacity="0.7"/>
<line x1="107.80" y1="956.40" x2="140.70" y2="956.40" stroke="#cf2630" stroke-width="3.0" />
<circle cx="125.1" cy="956.4" r="6.2" fill="#cf2630"/>
<line x1="107.80" y1="975.50" x2="140.70" y2="975.50" stroke="#f4c09c" stroke-width="3.0" />
<line x1="107.80" y1="975.50" x2="140.70" y2="975.50" stroke="#e7752d" stroke-width="3.0" stroke-dasharray="4,2.6"/>
<rect x="118.8" y="969.2" width="12.6" height="12.6" fill="#e2602a"/>
<line x1="108.70" y1="998.80" x2="139.00" y2="998.80" stroke="#111" stroke-width="2.4" stroke-dasharray="2.4,2.4"/>
<line x1="108.30" y1="1017.70" x2="140.20" y2="1017.70" stroke="#111" stroke-width="2.8" />
<line x1="108.30" y1="1042.80" x2="140.20" y2="1042.80" stroke="#2b2b2b" stroke-width="2.8" />
<circle cx="125.1" cy="1042.8" r="8.6" fill="#2b2b2b"/>
<line x1="108.30" y1="1061.80" x2="140.20" y2="1061.80" stroke="#4e4e4e" stroke-width="2.8" />
<circle cx="125.1" cy="1061.8" r="8.6" fill="#4e4e4e"/>
<text transform="translate(81.92,136.70) scale(1.0761,1)" font-size="23" text-anchor="end" fill="#232323">0.3</text>
<text transform="translate(81.92,267.10) scale(1.0761,1)" font-size="23" text-anchor="end" fill="#232323">0.2</text>
<text transform="translate(81.92,397.50) scale(1.0761,1)" font-size="23" text-anchor="end" fill="#232323">0.1</text>
<text transform="translate(81.85,525.00) scale(1.0737,1)" font-size="23" text-anchor="end" fill="#232323">0.0</text>
<text transform="translate(81.43,565.00) scale(1.0467,1)" font-size="23" text-anchor="end" fill="#232323">2.4</text>
<text transform="translate(81.49,693.40) scale(1.0490,1)" font-size="23" text-anchor="end" fill="#232323">2.2</text>
<text transform="translate(81.43,825.50) scale(1.0467,1)" font-size="23" text-anchor="end" fill="#232323">2.0</text>
<text transform="translate(81.43,957.50) scale(1.0207,1)" font-size="23" text-anchor="end" fill="#232323">1.8</text>
<text transform="translate(81.43,1088.70) scale(1.0207,1)" font-size="23" text-anchor="end" fill="#232323">1.6</text>
<text transform="translate(101.64,1120.30) scale(1.0282,1)" font-size="23" text-anchor="middle" fill="#232323">−800</text>
<text transform="translate(199.91,1120.30) scale(1.0084,1)" font-size="23" text-anchor="middle" fill="#232323">−400</text>
<text transform="translate(299.86,1120.30) scale(1.0351,1)" font-size="23" text-anchor="middle" fill="#232323">0</text>
<text transform="translate(398.65,1120.30) scale(1.0272,1)" font-size="23" text-anchor="middle" fill="#232323">400</text>
<text transform="translate(497.50,1120.30) scale(1.0548,1)" font-size="23" text-anchor="middle" fill="#232323">800</text>
<text transform="translate(303.79,21.30) scale(1.0179,1)" font-size="23" text-anchor="middle" fill="#232323">Py 1.0 M + KOH 1.0 mM</text>
<text transform="translate(150.26,49.90) scale(1.0242,1)" font-size="23" text-anchor="start" fill="#232323">EDL thickness, <tspan font-style="italic">d</tspan><tspan font-size="16.5" dy="5.4">EDL</tspan><tspan dy="-5.4"> = 9.6 nm</tspan></text>
<text transform="translate(167.18,1158.70) scale(1.0225,1)" font-size="23" text-anchor="start" fill="#232323"><tspan font-style="italic">E</tspan> vs. Ag/AgCl/Cl<tspan font-size="15.5" dy="-9.5">−</tspan><tspan font-size="15.5" dx="-8.5" dy="13.5">(sat.)</tspan><tspan dy="-4"> (mV)</tspan></text>
<text transform="translate(25.20,485.33) rotate(-90) scale(1.0154,1)" font-size="23" text-anchor="start" fill="#232323">Double layer capacitance (mF cm<tspan font-size="15.5" dy="-9.5">−2</tspan><tspan dy="9.5">)</tspan></text>
<text transform="translate(25.60,868.60) rotate(-90) scale(1.0034,1)" font-size="23" text-anchor="start" fill="#232323">FWHM (eV)</text>
<text transform="translate(113.61,103.10) scale(0.6841,1)" font-size="36" text-anchor="start" fill="#1a1a1a"><tspan stroke="#1a1a1a" stroke-width="1.1">(</tspan></text>
<text transform="translate(123.83,103.20) scale(0.9655,1)" font-size="33.5" text-anchor="start" fill="#1a1a1a"><tspan font-weight="bold" stroke="#1a1a1a" stroke-width="0.7">A</tspan></text>
<text transform="translate(149.77,103.10) scale(0.7618,1)" font-size="36" text-anchor="start" fill="#1a1a1a"><tspan stroke="#1a1a1a" stroke-width="1.1">)</tspan></text>
<text transform="translate(114.51,579.00) scale(0.6515,1)" font-size="36" text-anchor="start" fill="#1a1a1a"><tspan stroke="#1a1a1a" stroke-width="1.1">(</tspan></text>
<text transform="translate(125.92,578.60) scale(0.8383,1)" font-size="33.5" text-anchor="start" fill="#1a1a1a"><tspan font-weight="bold" stroke="#1a1a1a" stroke-width="0.7">B</tspan></text>
<text transform="translate(149.20,579.00) scale(0.5953,1)" font-size="36" text-anchor="start" fill="#1a1a1a"><tspan stroke="#1a1a1a" stroke-width="1.1">)</tspan></text>
<text transform="translate(316.11,89.20) scale(1.0905,1)" font-size="15.5" text-anchor="start" fill="#232323">GC ( <tspan font-family="Liberation Serif, serif" font-style="italic" font-size="13.5">χ</tspan><tspan font-size="10.8" dy="-10.3" dx="1.5">2</tspan><tspan dy="10.3"> = 19.45)</tspan></text>
<text transform="translate(316.12,117.60) scale(1.0931,1)" font-size="15.5" text-anchor="start" fill="#232323">GCS ( <tspan font-family="Liberation Serif, serif" font-style="italic" font-size="13.5">χ</tspan><tspan font-size="10.8" dy="-10.3" dx="1.5">2</tspan><tspan dy="10.3"> = 5.92)</tspan></text>
<text transform="translate(316.26,141.20) scale(1.0689,1)" font-size="15.5" text-anchor="start" fill="#232323">Electrochemical data</text>
<text transform="translate(149.46,961.00) scale(1.0848,1)" font-size="15.5" text-anchor="start" fill="#232323">LPPy N 1s FWHM</text>
<text transform="translate(149.47,979.80) scale(1.0786,1)" font-size="15.5" text-anchor="start" fill="#232323">LPW O 1s FWHM</text>
<text transform="translate(149.36,1003.00) scale(1.0840,1)" font-size="15.5" text-anchor="start" fill="#232323">Cathodic branch fit</text>
<text transform="translate(149.34,1022.40) scale(1.0664,1)" font-size="15.5" text-anchor="start" fill="#232323">Anodic branch fit</text>
<text transform="translate(149.25,1048.00) scale(1.0786,1)" font-size="15.5" text-anchor="start" fill="#232323">Exponential model LPPy N 1s FWHM</text>
<text transform="translate(149.25,1067.00) scale(1.0825,1)" font-size="15.5" text-anchor="start" fill="#232323">Exponential model LPW O 1s FWHM</text>
<text transform="translate(316.93,1014.10) scale(1.0826,1)" font-size="15.5" text-anchor="start" fill="#232323">OCP (0 mV)</text>
<text transform="translate(317.69,987.50) scale(1.0780,1)" font-size="15.5" text-anchor="start" fill="#232323">PZC<tspan font-size="9.9" font-weight="bold" dy="-8.5">CV</tspan><tspan font-size="9.9" font-weight="bold" dx="-13.75" dy="11.6">EC</tspan><tspan dy="-3.1" dx="0.6"> (+7 mV)</tspan></text>
<text transform="translate(290.20,290.23) rotate(-90) scale(1.0119,1)" font-size="15.5" text-anchor="start" fill="#232323">PZC<tspan font-size="10.8" dy="-8.9">CV</tspan><tspan font-size="10.8" dx="-15" dy="13.3">EC</tspan><tspan dy="-4.4" dx="1.3"> (+7 mV)</tspan></text>
<text transform="translate(280.90,702.00) rotate(-90) scale(1.0038,1)" font-size="15.5" text-anchor="start" fill="#232323">PZC<tspan font-size="11.2" dy="-9">LPPy N 1s</tspan><tspan font-size="10.8" dx="-52.9" dy="12.7">APXPS</tspan><tspan dy="1.2" dx="16.9">(−2 mV)</tspan></text>
<text transform="translate(330.20,701.00) rotate(-90) scale(1.0062,1)" font-size="15.5" text-anchor="start" fill="#232323">PZC<tspan font-size="10.8" dy="-10">LPW O 1s</tspan><tspan font-size="10.8" dx="-49.2" dy="14.4">APXPS</tspan><tspan dy="-0.6" dx="13.2">(+21 mV)</tspan></text>
</svg>
</body></html>
